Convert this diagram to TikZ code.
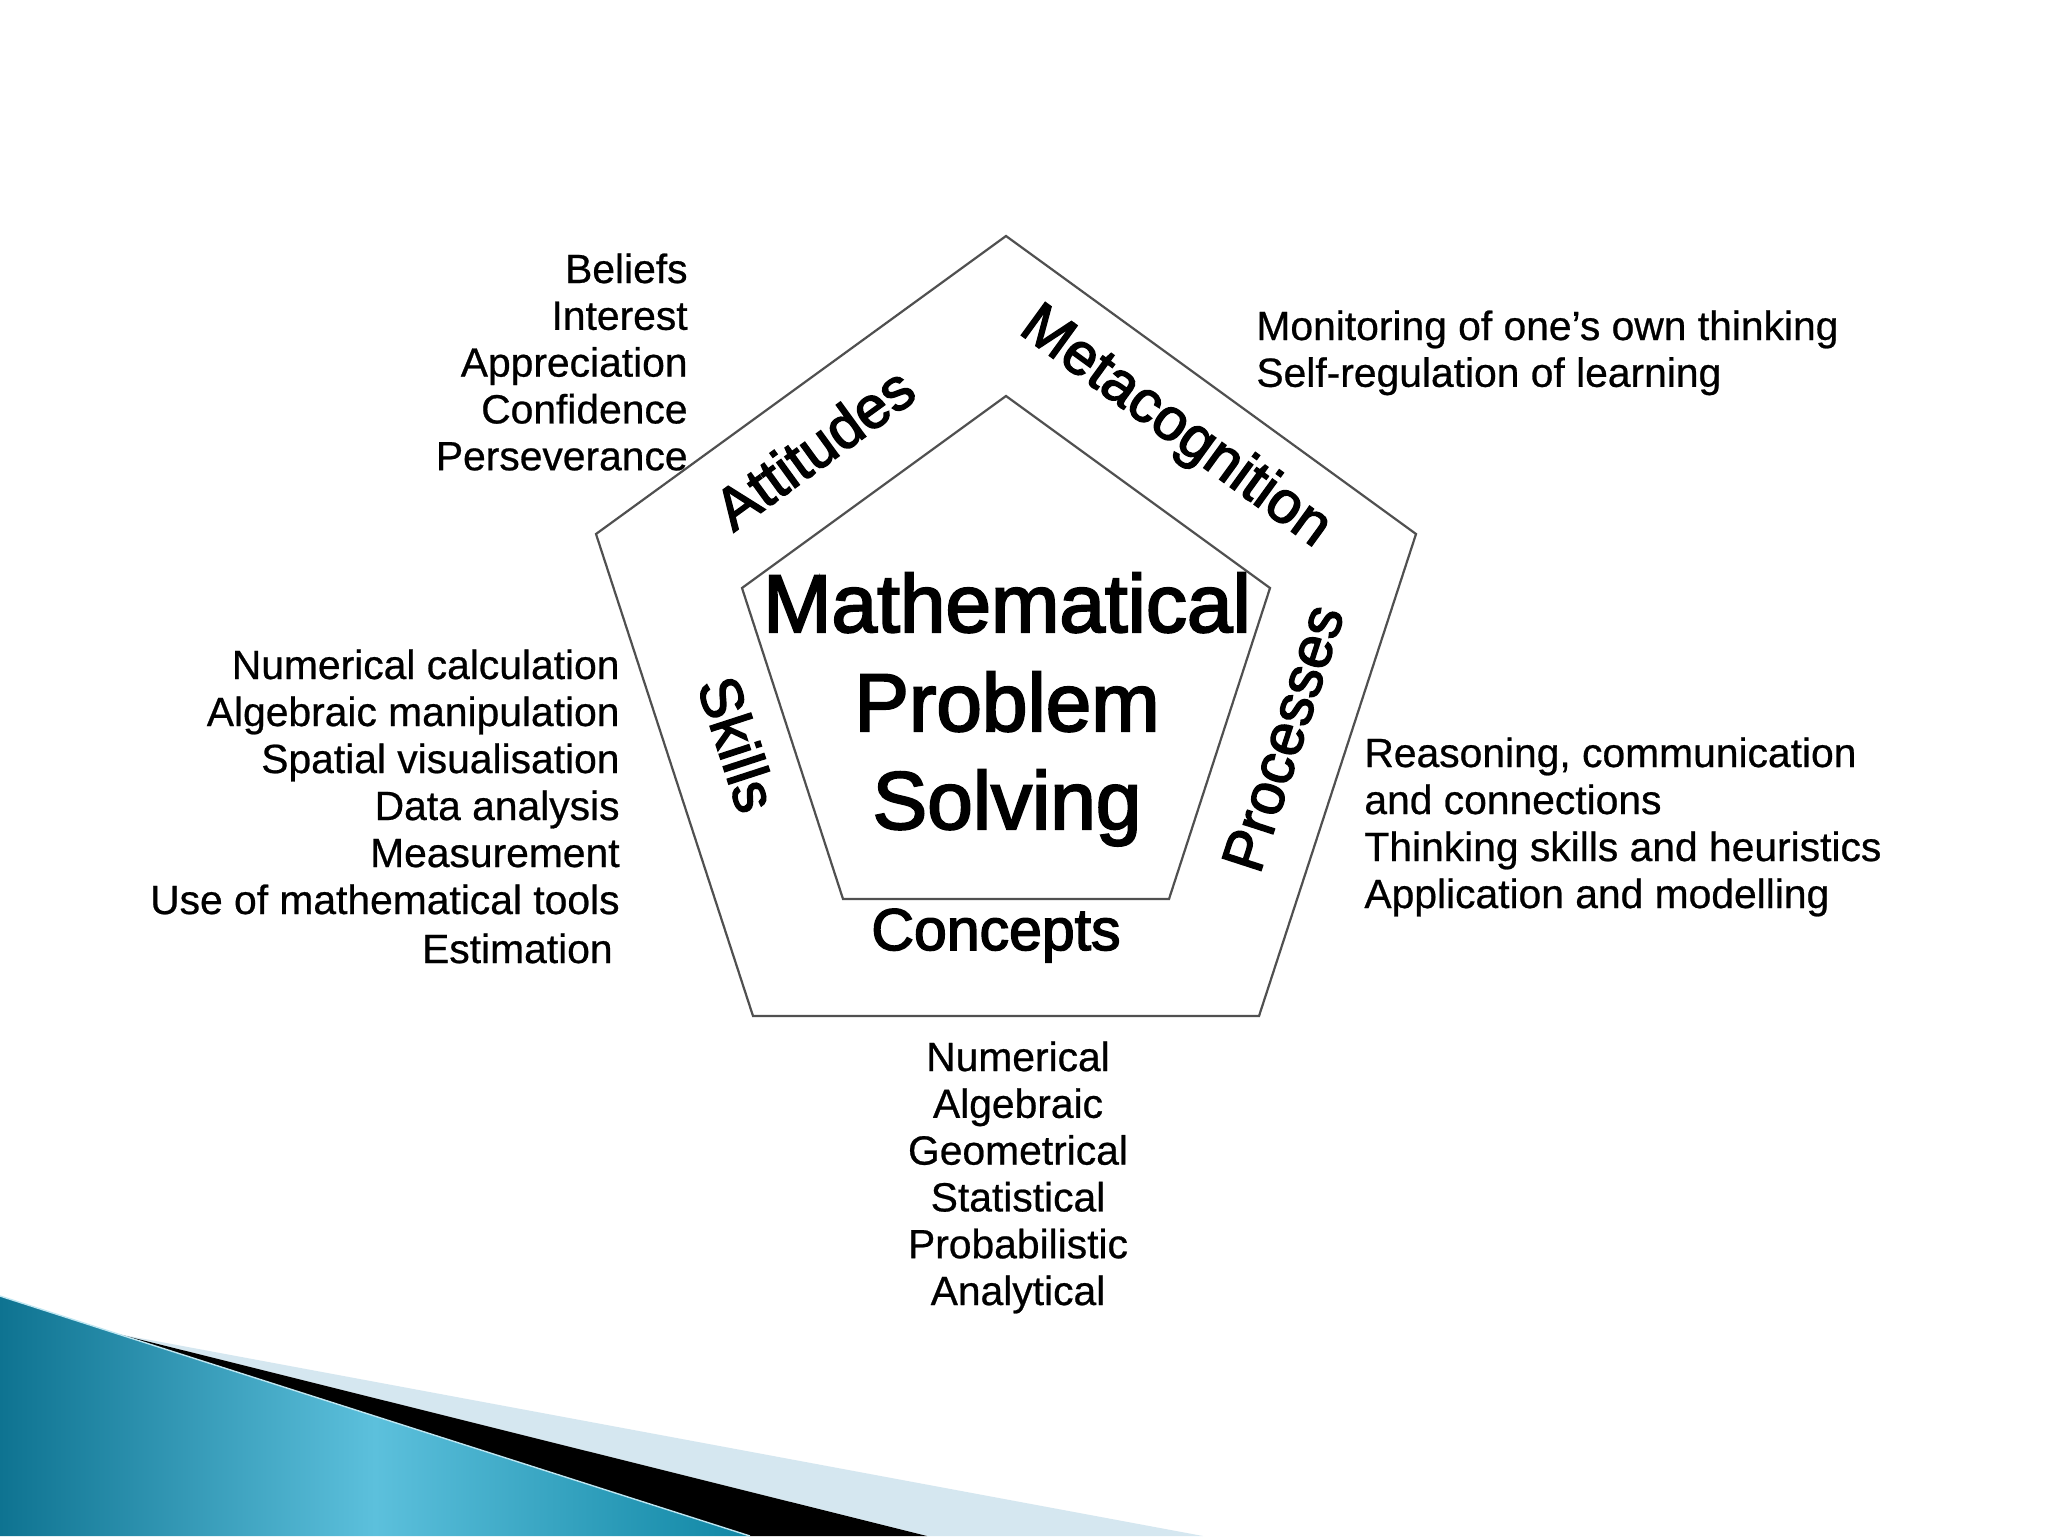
\documentclass[tikz,border=0pt]{standalone}
\usepackage{fontspec}
\setmainfont{Liberation Sans}
\newfontfamily\heavyfont[FakeBold=2.5,Ligatures=TeX]{Liberation Sans}
\newfontfamily\listfont[FakeBold=0.6,Ligatures=TeX]{Liberation Sans}
\usetikzlibrary{calc}
\definecolor{tealdark}{HTML}{0E7391}
\definecolor{teallight}{HTML}{5CC0DC}
\definecolor{tealmid}{HTML}{0F86A4}
\definecolor{paleblue}{HTML}{D5E7F0}
\definecolor{edgegray}{HTML}{505050}
\begin{document}
\begin{tikzpicture}[x=0.5pt,y=-0.5pt,
  pent/.style={draw=edgegray,line width=1.1pt,line join=miter},
  listR/.style={anchor=base east,inner sep=0pt,font=\listfont\fontsize{20.4}{24}\selectfont},
  listL/.style={anchor=base west,inner sep=0pt,font=\listfont\fontsize{20.4}{24}\selectfont},
  listC/.style={anchor=base,inner sep=0pt,font=\listfont\fontsize{20.4}{24}\selectfont},
  dimlabel/.style={inner sep=0pt,font=\heavyfont\fontsize{29.5}{34}\selectfont},
  titletext/.style={anchor=base,inner sep=0pt,font=\heavyfont\fontsize{41}{49}\selectfont}]
\useasboundingbox (0,0) rectangle (2048,1536);
\fill[white] (0,0) rectangle (2048,1536);

% decoration bottom left
\coordinate (apex) at (118,1334);
\fill[paleblue] (apex) -- (1203,1536) -- (927,1536) -- cycle;
\fill[black] (apex) -- (927,1536) -- (750,1536) -- cycle;
\shade[left color=tealdark,right color=tealmid,middle color=teallight]
  (0,1296) -- (apex) -- (750,1536) -- (0,1536) -- cycle;
\draw[white!60!teallight,line width=0.7pt] (0,1296) -- (apex) -- (750,1536);

% pentagons
\draw[pent] (1006,236) -- (1416,534) -- (1259,1016) -- (753,1016) -- (596,534) -- cycle;
\draw[pent] (1006,396) -- (1270,588) -- (1169,899) -- (843,899) -- (742,588) -- cycle;

% centre text
\node[titletext] (t1) at (1007,632) {Mathematical};
\node[titletext] (t2) at (1007,731) {Problem};
\node[titletext] (t3) at (1007,829) {Solving};

% dimension labels
\node[dimlabel,rotate=36] (att) at (814,448) {Attitudes};
\node[dimlabel,rotate=-36] (meta) at (1175,428) {Metacognition};
\node[dimlabel,rotate=72] (proc) at (1283,738) {Processes};
\node[dimlabel,rotate=-72] (skills) at (738,744) {Skills};
\node[dimlabel,anchor=base] (conc) at (996,950) {Concepts};

% lists
\foreach \t [count=\i] in {Beliefs,Interest,Appreciation,Confidence,Perseverance}
  \node[listR] (a\i) at (688,{283+46.8*(\i-1)}) {\t};
\foreach \t [count=\i] in {Monitoring of one’s own thinking,Self-regulation of learning}
  \node[listL] (m\i) at (1256,{340+46.8*(\i-1)}) {\t};
\foreach \t [count=\i] in {Numerical calculation,Algebraic manipulation,Spatial visualisation,Data analysis,Measurement,Use of mathematical tools}
  \node[listR] (s\i) at (620,{679+47*(\i-1)}) {\t};
\node[listR] (s7) at (613,963) {Estimation};
\foreach \t [count=\i] in {{Reasoning, communication},and connections,Thinking skills and heuristics,Application and modelling}
  \node[listL] (p\i) at (1364,{767+47*(\i-1)}) {\t};
\foreach \t [count=\i] in {Numerical,Algebraic,Geometrical,Statistical,Probabilistic,Analytical}
  \node[listC] (c\i) at (1018,{1071+46.8*(\i-1)}) {\t};
\end{tikzpicture}
\end{document}
